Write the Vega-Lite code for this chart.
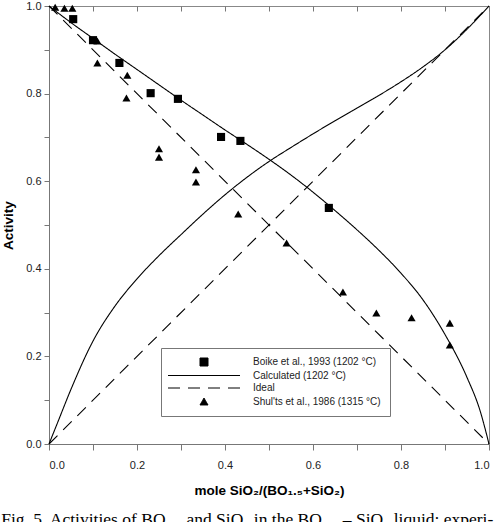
{
  "$schema": "https://vega.github.io/schema/vega-lite/v6.json",
  "width": 440,
  "height": 438,
  "padding": {"left": 1, "top": 0, "right": 0, "bottom": 0},
  "background": "white",
  "title": {
    "text": "Fig. 5.  Activities of BO₁.₅ and SiO₂ in the BO₁.₅ – SiO₂ liquid; experi-",
    "orient": "bottom",
    "anchor": "start",
    "frame": "bounds",
    "font": "Liberation Serif",
    "fontSize": 17.5,
    "fontWeight": "normal",
    "color": "black",
    "baseline": "alphabetic",
    "offset": 28,
    "dx": 0,
    "limit": 0
  },
  "config": {
    "view": {"stroke": "#888", "strokeWidth": 1},
    "axis": {"labelFont": "Liberation Sans", "titleFont": "Liberation Sans", "grid": false}
  },
  "datasets": {
    "pts": [
      {"series": "Boike et al., 1993 (1202 °C)", "x": 0.055, "y": 0.97},
      {"series": "Boike et al., 1993 (1202 °C)", "x": 0.1, "y": 0.922},
      {"series": "Boike et al., 1993 (1202 °C)", "x": 0.16, "y": 0.87},
      {"series": "Boike et al., 1993 (1202 °C)", "x": 0.231, "y": 0.801},
      {"series": "Boike et al., 1993 (1202 °C)", "x": 0.293, "y": 0.788},
      {"series": "Boike et al., 1993 (1202 °C)", "x": 0.391, "y": 0.701},
      {"series": "Boike et al., 1993 (1202 °C)", "x": 0.435, "y": 0.692},
      {"series": "Boike et al., 1993 (1202 °C)", "x": 0.636, "y": 0.539},
      {"series": "Shul'ts et al., 1986 (1315 °C)", "x": 0.014, "y": 0.997},
      {"series": "Shul'ts et al., 1986 (1315 °C)", "x": 0.035, "y": 0.995},
      {"series": "Shul'ts et al., 1986 (1315 °C)", "x": 0.053, "y": 0.995},
      {"series": "Shul'ts et al., 1986 (1315 °C)", "x": 0.11, "y": 0.92},
      {"series": "Shul'ts et al., 1986 (1315 °C)", "x": 0.11, "y": 0.87},
      {"series": "Shul'ts et al., 1986 (1315 °C)", "x": 0.178, "y": 0.842},
      {"series": "Shul'ts et al., 1986 (1315 °C)", "x": 0.176, "y": 0.79},
      {"series": "Shul'ts et al., 1986 (1315 °C)", "x": 0.25, "y": 0.674},
      {"series": "Shul'ts et al., 1986 (1315 °C)", "x": 0.25, "y": 0.655},
      {"series": "Shul'ts et al., 1986 (1315 °C)", "x": 0.334, "y": 0.626},
      {"series": "Shul'ts et al., 1986 (1315 °C)", "x": 0.334, "y": 0.598},
      {"series": "Shul'ts et al., 1986 (1315 °C)", "x": 0.43, "y": 0.525},
      {"series": "Shul'ts et al., 1986 (1315 °C)", "x": 0.54, "y": 0.459},
      {"series": "Shul'ts et al., 1986 (1315 °C)", "x": 0.668, "y": 0.347},
      {"series": "Shul'ts et al., 1986 (1315 °C)", "x": 0.744, "y": 0.299},
      {"series": "Shul'ts et al., 1986 (1315 °C)", "x": 0.824, "y": 0.288},
      {"series": "Shul'ts et al., 1986 (1315 °C)", "x": 0.911, "y": 0.276},
      {"series": "Shul'ts et al., 1986 (1315 °C)", "x": 0.911, "y": 0.226}
    ],
    "curves": [
      {"series": "Calculated (1202 °C)", "curve": "BO", "x": 0.0, "y": 1.0},
      {"series": "Calculated (1202 °C)", "curve": "BO", "x": 0.05, "y": 0.962},
      {"series": "Calculated (1202 °C)", "curve": "BO", "x": 0.1, "y": 0.926},
      {"series": "Calculated (1202 °C)", "curve": "BO", "x": 0.15, "y": 0.89},
      {"series": "Calculated (1202 °C)", "curve": "BO", "x": 0.2, "y": 0.855},
      {"series": "Calculated (1202 °C)", "curve": "BO", "x": 0.25, "y": 0.82},
      {"series": "Calculated (1202 °C)", "curve": "BO", "x": 0.3, "y": 0.785},
      {"series": "Calculated (1202 °C)", "curve": "BO", "x": 0.35, "y": 0.751},
      {"series": "Calculated (1202 °C)", "curve": "BO", "x": 0.4, "y": 0.717},
      {"series": "Calculated (1202 °C)", "curve": "BO", "x": 0.45, "y": 0.684},
      {"series": "Calculated (1202 °C)", "curve": "BO", "x": 0.5, "y": 0.65},
      {"series": "Calculated (1202 °C)", "curve": "BO", "x": 0.55, "y": 0.614},
      {"series": "Calculated (1202 °C)", "curve": "BO", "x": 0.6, "y": 0.575},
      {"series": "Calculated (1202 °C)", "curve": "BO", "x": 0.65, "y": 0.533},
      {"series": "Calculated (1202 °C)", "curve": "BO", "x": 0.7, "y": 0.489},
      {"series": "Calculated (1202 °C)", "curve": "BO", "x": 0.75, "y": 0.442},
      {"series": "Calculated (1202 °C)", "curve": "BO", "x": 0.8, "y": 0.39},
      {"series": "Calculated (1202 °C)", "curve": "BO", "x": 0.85, "y": 0.329},
      {"series": "Calculated (1202 °C)", "curve": "BO", "x": 0.9, "y": 0.25},
      {"series": "Calculated (1202 °C)", "curve": "BO", "x": 0.95, "y": 0.152},
      {"series": "Calculated (1202 °C)", "curve": "BO", "x": 0.98, "y": 0.075},
      {"series": "Calculated (1202 °C)", "curve": "BO", "x": 1.0, "y": 0.0},
      {"series": "Calculated (1202 °C)", "curve": "SiO", "x": 0.0, "y": 0.0},
      {"series": "Calculated (1202 °C)", "curve": "SiO", "x": 0.02, "y": 0.05},
      {"series": "Calculated (1202 °C)", "curve": "SiO", "x": 0.05, "y": 0.125},
      {"series": "Calculated (1202 °C)", "curve": "SiO", "x": 0.1, "y": 0.235},
      {"series": "Calculated (1202 °C)", "curve": "SiO", "x": 0.15, "y": 0.315},
      {"series": "Calculated (1202 °C)", "curve": "SiO", "x": 0.2, "y": 0.377},
      {"series": "Calculated (1202 °C)", "curve": "SiO", "x": 0.25, "y": 0.43},
      {"series": "Calculated (1202 °C)", "curve": "SiO", "x": 0.3, "y": 0.478},
      {"series": "Calculated (1202 °C)", "curve": "SiO", "x": 0.35, "y": 0.525},
      {"series": "Calculated (1202 °C)", "curve": "SiO", "x": 0.4, "y": 0.569},
      {"series": "Calculated (1202 °C)", "curve": "SiO", "x": 0.45, "y": 0.609},
      {"series": "Calculated (1202 °C)", "curve": "SiO", "x": 0.5, "y": 0.645},
      {"series": "Calculated (1202 °C)", "curve": "SiO", "x": 0.55, "y": 0.677},
      {"series": "Calculated (1202 °C)", "curve": "SiO", "x": 0.6, "y": 0.708},
      {"series": "Calculated (1202 °C)", "curve": "SiO", "x": 0.65, "y": 0.738},
      {"series": "Calculated (1202 °C)", "curve": "SiO", "x": 0.7, "y": 0.767},
      {"series": "Calculated (1202 °C)", "curve": "SiO", "x": 0.75, "y": 0.796},
      {"series": "Calculated (1202 °C)", "curve": "SiO", "x": 0.8, "y": 0.827},
      {"series": "Calculated (1202 °C)", "curve": "SiO", "x": 0.85, "y": 0.861},
      {"series": "Calculated (1202 °C)", "curve": "SiO", "x": 0.9, "y": 0.9},
      {"series": "Calculated (1202 °C)", "curve": "SiO", "x": 0.95, "y": 0.947},
      {"series": "Calculated (1202 °C)", "curve": "SiO", "x": 1.0, "y": 1.0},
      {"series": "Ideal", "curve": "BO", "x": 0.0, "y": 1.0},
      {"series": "Ideal", "curve": "BO", "x": 1.0, "y": 0.0},
      {"series": "Ideal", "curve": "SiO", "x": 0.0, "y": 0.0},
      {"series": "Ideal", "curve": "SiO", "x": 1.0, "y": 1.0}
    ]
  },
  "layer": [
    {
      "data": {"name": "curves"},
      "mark": {"type": "line", "color": "black", "strokeWidth": 1.1, "interpolate": "monotone"},
      "encoding": {
        "x": {"field": "x", "type": "quantitative",
          "scale": {"domain": [0, 1], "nice": false},
          "axis": {"orient": "top", "title": null, "labels": false, "domain": false,
            "values": [0, 0.1, 0.2, 0.3, 0.4, 0.5, 0.6, 0.7, 0.8, 0.9, 1.0],
            "tickSize": 5, "offset": -5, "tickColor": "#777"}},
        "y": {"field": "y", "type": "quantitative", "scale": {"domain": [0, 1], "nice": false},
          "axis": {"title": "Activity",
            "values": [0, 0.1, 0.2, 0.3, 0.4, 0.5, 0.6, 0.7, 0.8, 0.9, 1.0],
            "labelExpr": "round(datum.value*10)%2==0 ? format(datum.value, '.1f') : ''",
            "tickSize": 5, "labelPadding": 3, "labelFontSize": 11, "labelColor": "#222",
            "domainColor": "#777", "tickColor": "#777",
            "titleFontSize": 13.5, "titleFontWeight": "bold", "titlePadding": 10.5, "titleColor": "black"}},
        "detail": {"field": "curve"},
        "strokeDash": {"field": "series", "type": "nominal",
          "scale": {
            "domain": ["Boike et al., 1993 (1202 °C)", "Calculated (1202 °C)", "Ideal", "Shul'ts et al., 1986 (1315 °C)"],
            "range": [[1, 0], [1, 0], [12, 8], [1, 0]]
          },
          "legend": {
            "orient": "none", "legendX": 112, "legendY": 342, "title": null,
            "padding": 9, "strokeColor": "#777", "fillColor": "white",
            "symbolOffset": 29, "labelOffset": 44, "symbolSize": 64,
            "symbolFillColor": "black", "symbolStrokeColor": "black", "symbolStrokeWidth": 1,
            "labelFont": "Liberation Sans", "labelFontSize": 10, "labelColor": "#222",
            "rowPadding": 2.5,
            "encode": {"symbols": {"update": {"fill": {"value": "black"}, "fillOpacity": {"value": 1}, "stroke": {"value": "black"}, "strokeWidth": {"value": 1}, "opacity": {"value": 1}}}}
          }
        }
      }
    },
    {
      "data": {"name": "pts"},
      "mark": {"type": "point", "filled": true, "color": "black", "size": 66, "opacity": 1},
      "encoding": {
        "x": {"field": "x", "type": "quantitative",
          "scale": {"domain": [0, 1], "nice": false},
          "axis": {"orient": "bottom", "title": "mole SiO₂/(BO₁.₅+SiO₂)",
            "values": [0, 0.1, 0.2, 0.3, 0.4, 0.5, 0.6, 0.7, 0.8, 0.9, 1.0],
            "labelExpr": "round(datum.value*10)%2==0 ? format(datum.value, '.1f') : ''",
            "tickSize": 6, "labelPadding": 9, "labelFontSize": 11, "labelColor": "#222",
            "domainColor": "#777", "tickColor": "#777",
            "titleFontSize": 13.5, "titleFontWeight": "bold", "titlePadding": 13, "titleColor": "black"}},
        "y": {"field": "y", "type": "quantitative",
          "scale": {"domain": [0, 1], "nice": false},
          "axis": {"title": "Activity",
            "values": [0, 0.1, 0.2, 0.3, 0.4, 0.5, 0.6, 0.7, 0.8, 0.9, 1.0],
            "labelExpr": "round(datum.value*10)%2==0 ? format(datum.value, '.1f') : ''",
            "tickSize": 5, "labelPadding": 3, "labelFontSize": 11, "labelColor": "#222",
            "domainColor": "#777", "tickColor": "#777",
            "titleFontSize": 13.5, "titleFontWeight": "bold", "titlePadding": 10.5, "titleColor": "black"}},
        "shape": {"field": "series", "type": "nominal",
          "scale": {
            "domain": ["Boike et al., 1993 (1202 °C)", "Calculated (1202 °C)", "Ideal", "Shul'ts et al., 1986 (1315 °C)"],
            "range": ["square", "M-9,0H9", "M-9,0H9", "triangle-up"]
          },
          "legend": {
            "orient": "none", "legendX": 112, "legendY": 342, "title": null,
            "padding": 9, "strokeColor": "#777", "fillColor": "white",
            "symbolOffset": 29, "labelOffset": 44, "symbolSize": 64,
            "symbolFillColor": "black", "symbolStrokeColor": "black", "symbolStrokeWidth": 1,
            "labelFont": "Liberation Sans", "labelFontSize": 10, "labelColor": "#222",
            "rowPadding": 2.5,
            "encode": {"symbols": {"update": {"fill": {"value": "black"}, "fillOpacity": {"value": 1}, "stroke": {"value": "black"}, "strokeWidth": {"value": 1}, "opacity": {"value": 1}}}}
          }
        }
      }
    }
  ],
  "resolve": {"axis": {"x": "independent"}}
}
